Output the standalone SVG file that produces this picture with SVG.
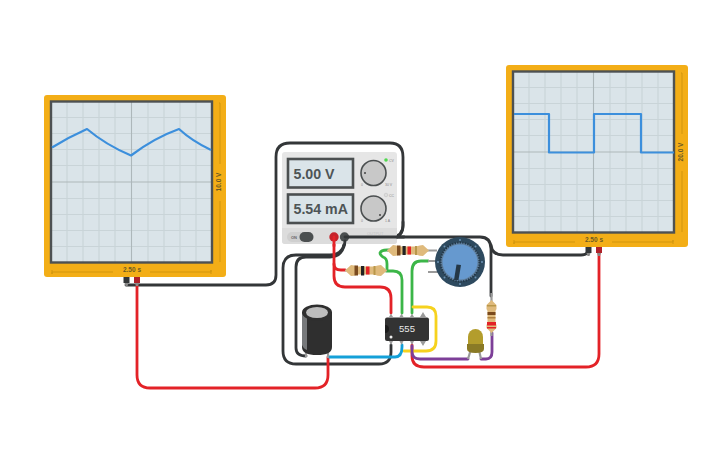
<svg xmlns="http://www.w3.org/2000/svg" width="725" height="453" viewBox="0 0 725 453">
<style>
text{font-family:"Liberation Sans",Arial,sans-serif}
.case{fill:#f3ae17}
.screen{fill:#dae4e9}
.frame{fill:none;stroke:#4d5152;stroke-width:2.4}
.g{stroke:#c9d4d8;stroke-width:1.1;fill:none}
.c{stroke:#adb7ba;stroke-width:1.1;fill:none}
.sc{stroke:#d0950f;stroke-width:1;fill:none}
.st{font-size:6.5px;font-weight:bold;fill:#6b5a24;text-anchor:middle}
.trace{fill:none;stroke:#3c8fdc;stroke-width:2.2;stroke-linejoin:round}
.w{fill:none;stroke-width:2.8;stroke-linecap:round;stroke-linejoin:round}
.k{stroke:#333638}.r{stroke:#e32227}.gn{stroke:#3cb648}.y{stroke:#f6d21e}.b{stroke:#14a0d8}.p{stroke:#7d3f98}
.lead{stroke:#9a9a9a;stroke-width:2.2;fill:none}
.lcd{fill:#dae4e9;stroke:#4b4f50;stroke-width:2.6}
.lt{font-size:14.200px;font-weight:bold;fill:#4d5456}
.knob{fill:#c8c8c8;stroke:#4b4f50;stroke-width:1.6}
.tiny{font-size:3.500px;fill:#8a8a8a}
.body{fill:#dfba7c}
.pin{fill:#9b9b9b}
</style>
<defs>
<g id="grid">
<path class="g" d="M16 0V161M32 0V161M48 0V161M64 0V161M97 0V161M113 0V161M129 0V161M145 0V161M0 16H161M0 32H161M0 48H161M0 64H161M0 97H161M0 113H161M0 129H161M0 145H161"/>
<path class="c" d="M80.500 0V161M0 80.500H161"/>
</g>
<g id="scale">
<path class="sc" d="M8 175V179V177H69M106 177H167V175V179M175 8H176V69M176 106V167"/>
</g>
<g id="res">
<path class="body" d="M0 -5.500Q3 -5.500 7 -4H23Q27 -5.500 30 -5.500L36 0L30 5.500Q27 5.500 23 4H7Q3 5.500 0 5.500L-6 0Z"/>
</g>
</defs>
<g id="connectors">
<path class="w k" d="M126 285H266Q276 285 276 275V157Q276 143 290 143H390Q403 143 403 157V225Q403 236 392 237H345"/>
<path class="w k" d="M345 237Q345 255 330 255H296Q283 255 283 268V351Q283 364 296 364H379Q391 364 391 352V345"/>
<path class="w k" d="M345 243Q342 257 330 257H306Q296 257 296 267V348Q296 356 306 356"/>
<path class="w k" d="M345 237H480Q491 237 491 249V296"/>
<path class="w k" d="M491 245Q492 255 503 255H581Q588 255 588 250"/>
<path class="w r" d="M137 285V375Q137 388 150 388H315Q328 388 328 375V357"/>
<path class="w r" d="M334 237V276Q334 287 345 287H380Q391 287 391 298V313"/>
<path class="w r" d="M334 264Q334 270 341 270H345"/>
<path class="w r" d="M412 345V356Q412 367 424 367H586Q599 367 599 354V252"/>
<path class="w gn" d="M387 270V264Q387 258 383 257Q380 255 380 253Q381 250 387 250H390"/>
<path class="w gn" d="M386 271H393Q402 271 402 280V313"/>
<path class="w gn" d="M412 313V271Q412 261 421 261H428"/>
<path class="w y" d="M413 307H427Q436 307 436 316V341Q436 351 426 351H404"/>
<path class="w b" d="M329 357H395Q402 357 402 347V345"/>
<path class="w p" d="M412 346V352Q412 359 420 359H468"/>
<path class="w p" d="M481 359H486Q492 359 492 352V333"/>
</g>
<g id="oscilloscope-1" transform="translate(44 95)">
<rect class="case" width="182" height="182" rx="3"/>
<rect class="screen" x="7" y="6.500" width="161" height="161"/>
<use href="#grid" x="7" y="6.500"/>
<rect class="frame" x="7" y="6.500" width="161" height="161"/>
<use href="#scale"/>
<path class="trace" d="M8 52.500Q25 42 43 34Q62 50 87 60.500Q110 43 135 34Q148 46 167 55"/>
<text class="st" x="88" y="177">2.50 s</text>
<text class="st" transform="translate(177 87) rotate(-90)">10.0 V</text>
</g>
<g id="probes-1">
<rect x="123.500" y="277" width="6" height="6" fill="#333638"/><path d="M124.500 283H128.500L127.500 286H125.500Z" fill="#888"/>
<rect x="134" y="277" width="6" height="6" fill="#b0222a"/><path d="M135 283H139L138 286H136Z" fill="#888"/>
</g>
<g id="oscilloscope-2" transform="translate(506 65)">
<rect class="case" width="182" height="182" rx="3"/>
<rect class="screen" x="7" y="6.500" width="161" height="161"/>
<use href="#grid" x="7" y="6.500"/>
<rect class="frame" x="7" y="6.500" width="161" height="161"/>
<use href="#scale"/>
<path class="trace" d="M8 49H43V87.500H88V49H135V87.500H168" stroke-linejoin="miter"/>
<text class="st" x="88" y="177">2.50 s</text>
<text class="st" transform="translate(177 87) rotate(-90)">20.0 V</text>
</g>
<g id="probes-2">
<rect x="585.500" y="247" width="6" height="6" fill="#333638"/><path d="M586.500 253H590.500L589.500 256H587.500Z" fill="#888"/>
<rect x="596" y="247" width="6" height="6" fill="#b0222a"/><path d="M597 253H601L600 256H598Z" fill="#888"/>
</g>
<g id="power-supply">
<rect x="282" y="152" width="115" height="92" rx="3" fill="#e6e6e6"/>
<path d="M282 228H397V241Q397 244 394 244H285Q282 244 282 241Z" fill="#dcdcdc"/>
<rect class="lcd" x="288" y="159" width="65" height="28.500"/>
<rect class="lcd" x="288" y="194.500" width="65" height="28.500"/>
<text class="lt" x="293.500" y="178.500">5.00 V</text>
<text class="lt" x="293.500" y="213.500">5.54 mA</text>
<circle class="knob" cx="373.500" cy="173" r="12.500"/>
<circle class="knob" cx="373.500" cy="208.500" r="12.500"/>
<circle cx="365" cy="173" r="1" fill="#444"/>
<circle cx="380" cy="215" r="1" fill="#444"/>
<circle cx="386" cy="160" r="1.800" fill="#4fd84f"/>
<circle cx="386" cy="195" r="1.800" fill="#ddd" stroke="#bbb" stroke-width=".5"/>
<text class="tiny" x="389" y="161.500">CV</text>
<text class="tiny" x="389" y="196.500">CC</text>
<text class="tiny" x="361" y="186">0</text>
<text class="tiny" x="385" y="186">30 V</text>
<text class="tiny" x="361" y="221.500">0</text>
<text class="tiny" x="385" y="221.500">1 A</text>
<rect x="287" y="232" width="24" height="10" rx="5" fill="#cfcfcf"/>
<rect x="299.500" y="232" width="14" height="10" rx="5" fill="#4b4f50"/>
<text x="294" y="238.500" font-size="4" font-weight="bold" text-anchor="middle" fill="#666">ON</text>
<text x="367" y="235" font-size="4" fill="#c4c4c4">OUTPUT</text>
<circle cx="334" cy="237" r="4.700" fill="#c5222a"/>
<circle cx="344.500" cy="237" r="4.700" fill="#4b4f50"/>
</g>
<g id="terminal-wires">
<path class="w r" d="M334 237V246"/>
<path class="w k" d="M345 237H404"/>
<path class="w k" d="M403 222V226Q403 234 397 237"/>
<path class="w k" d="M345 241Q345 244 343.500 246"/>
</g>
<g id="resistor-1">
<path class="lead" d="M345 270.500H387"/>
<use href="#res" x="351" y="270.500"/>
<rect x="354.500" y="265.500" width="3.500" height="10" fill="#7a4a1e"/><rect x="361" y="266" width="3.200" height="9.500" fill="#222"/><rect x="366" y="266.500" width="3.500" height="8" fill="#e32227"/><rect x="373.500" y="266" width="2" height="9" fill="#b9974a"/>
</g>
<g id="resistor-2">
<path class="lead" d="M387 250.500H437"/>
<use href="#res" x="393" y="250.500"/>
<rect x="397" y="245.500" width="3.500" height="10" fill="#7a4a1e"/><rect x="402.500" y="246" width="3.200" height="9" fill="#222"/><rect x="407.500" y="246.500" width="3.500" height="8" fill="#e32227"/><rect x="415" y="246" width="2" height="9" fill="#b9974a"/>
</g>
<g id="potentiometer">
<path class="lead" d="M428 261H438M428 272H440"/>
<circle cx="460" cy="262" r="25" fill="#2e4a5f"/>
<circle cx="460" cy="262" r="19.500" fill="#5f7f9e" stroke="#243746" stroke-width="2" stroke-dasharray="1.300 1.300"/>
<circle cx="460" cy="262" r="17.500" fill="#6699cf"/>
<path d="M456.500 264.500L461 265L458.500 280H454Z" fill="#243746"/>
<g fill="#6d93b4"><circle cx="460" cy="240" r="1"/><circle cx="460" cy="284" r="1"/><circle cx="482" cy="262" r="1"/><circle cx="438" cy="262" r="1"/><circle cx="475.500" cy="246.500" r="1"/><circle cx="444.500" cy="246.500" r="1"/><circle cx="475.500" cy="277.500" r="1"/><circle cx="444.500" cy="277.500" r="1"/></g>
</g>
<g id="resistor-3">
<path class="lead" d="M491.500 293V336"/>
<path class="body" d="M491.500 300L496.500 305V309L495.500 311V323L496.500 325V328L491.500 333L486.500 328V325L487.500 323V311L486.500 309V305Z"/>
<rect x="487" y="305" width="9" height="1.500" fill="#b9974a"/><rect x="487.500" y="312" width="8" height="3" fill="#7a4a1e"/><rect x="487.500" y="317" width="8" height="1.500" fill="#b08040"/><rect x="487" y="322" width="9" height="3.500" fill="#e32227"/><rect x="487" y="327" width="9" height="1.500" fill="#e32227"/>
</g>
<g id="capacitor">
<path class="lead" d="M306 346V357M328 346V358" stroke-width="1.800"/>
<path d="M302 312V347Q302 355 317 355Q332 355 332 347V312Z" fill="#2f2f2f"/>
<path d="M302 312V345Q303.500 349 307 350V316Z" fill="#77797b"/>
<ellipse cx="317" cy="312.500" rx="15" ry="8" fill="#2f2f2f"/>
<ellipse cx="317" cy="312.500" rx="11" ry="5.500" fill="#bdbdbd"/>
</g>
<g id="ic-555">
<path class="pin" d="M389 317L391 313.500L393 317ZM399.500 317L401.500 313.500L403.500 317ZM410 317L412 313.500L414 317ZM420 317L423 312L426 317ZM389 341L391 345L393 341ZM399.500 341L401.500 345L403.500 341ZM410 341L412 345L414 341ZM420 341L423 346L426 341Z"/>
<rect x="385" y="317.500" width="44" height="23.500" rx="2" fill="#333333"/>
<path d="M385 325A3 3 0 0 1 385 333Z" fill="#1c1c1c"/>
<circle cx="391" cy="337" r="1.500" fill="#eee"/>
<text x="407" y="332" font-size="9.500" fill="#e8e8e8" text-anchor="middle">555</text>
</g>
<g id="led">
<path class="lead" d="M471 349L468 359M479 350L481 359"/>
<path d="M468 349V337A7.500 8 0 0 1 483 337V349Z" fill="#b39d2c"/>
<path d="M467 344H484V349Q484 353 475.500 353Q467 353 467 349Z" fill="#8a7a26"/>
</g>
</svg>
